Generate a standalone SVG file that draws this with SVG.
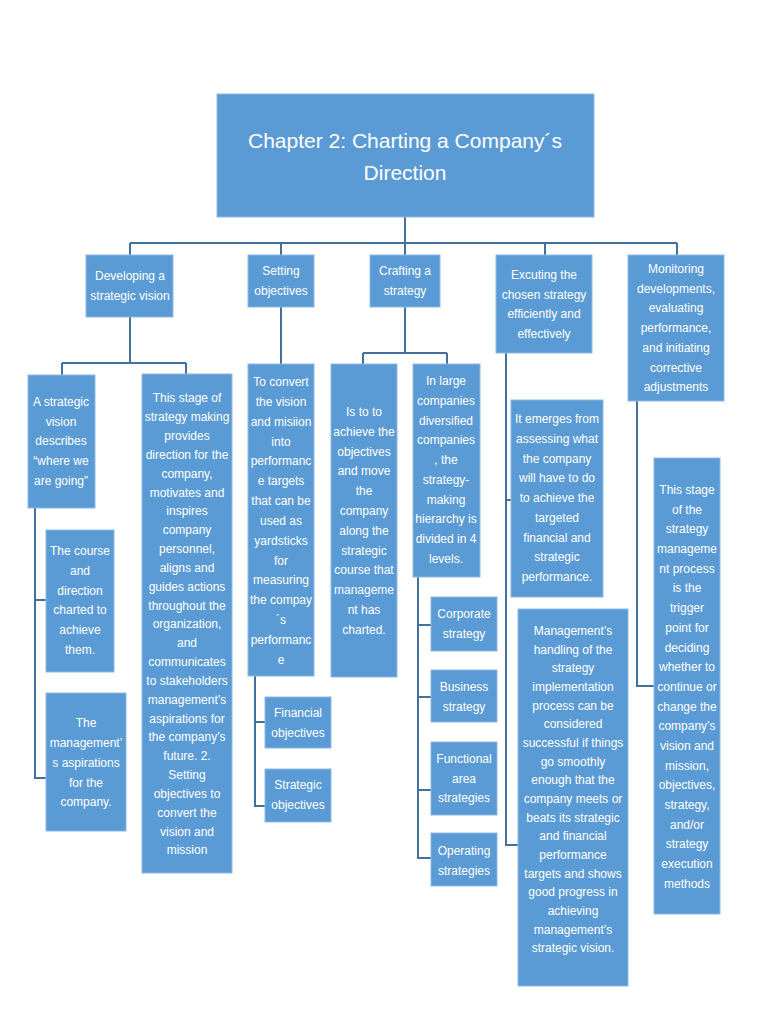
<svg xmlns="http://www.w3.org/2000/svg" width="768" height="1024" viewBox="0 0 768 1024">
<style>
.b{fill:#5B9BD5;stroke:#8DB9E6;stroke-width:1}
.t{font-family:"Liberation Sans",Arial,sans-serif;font-size:12px;fill:#fff;text-anchor:middle}
.c{fill:none;stroke:#41719C;stroke-width:2}
</style>
<rect width="768" height="1024" fill="#fff"/>
<g id="connectors" class="c">
<path d="M405 217V243M130 243H677M130 243V255M281 243V255M405 243V255M545 243V255M677 243V255"/>
<path d="M130 317V363M62 363H186M62 363V375M186 363V375"/>
<path d="M35 508V778H46M35 600H46"/>
<path d="M281 307V364"/>
<path d="M255 676V806H265M255 722H265"/>
<path d="M405 307V353M363 353H447M363 353V364M447 353V364"/>
<path d="M418 577V858H431M418 625H431M418 697H431M418 790H431"/>
<path d="M506 353V845H518M506 500H511"/>
<path d="M637 401V686H654"/>
</g>
<g id="title"><rect class="b" x="217" y="94" width="377" height="123"/>
<text class="t" style="font-size:21px" x="405" y="148">Chapter 2: Charting a Company´s</text>
<text class="t" style="font-size:21px" x="405" y="180">Direction</text></g>
<g id="n1"><rect class="b" x="86" y="255" width="87" height="62"/><text class="t" x="130" y="280">Developing a</text><text class="t" x="130" y="300">strategic vision</text></g>
<g id="n2"><rect class="b" x="248" y="255" width="66" height="52"/><text class="t" x="281" y="275">Setting</text><text class="t" x="281" y="295">objectives</text></g>
<g id="n3"><rect class="b" x="370" y="255" width="70" height="52"/><text class="t" x="405" y="275">Crafting a</text><text class="t" x="405" y="295">strategy</text></g>
<g id="n4"><rect class="b" x="496" y="255" width="96" height="98"/><text class="t" x="544" y="279">Excuting the</text><text class="t" x="544" y="299">chosen strategy</text><text class="t" x="544" y="318">efficiently and</text><text class="t" x="544" y="338">effectively</text></g>
<g id="n5"><rect class="b" x="628" y="255" width="96" height="146"/><text class="t" x="676" y="273">Monitoring</text><text class="t" x="676" y="293">developments,</text><text class="t" x="676" y="312">evaluating</text><text class="t" x="676" y="332">performance,</text><text class="t" x="676" y="352">and initiating</text><text class="t" x="676" y="372">corrective</text><text class="t" x="676" y="391">adjustments</text></g>
<g id="n6"><rect class="b" x="28" y="375" width="67" height="133"/><text class="t" x="61" y="406">A strategic</text><text class="t" x="61" y="426">vision</text><text class="t" x="61" y="445">describes</text><text class="t" x="61" y="465">“where we</text><text class="t" x="61" y="485">are going”</text></g>
<g id="n7"><rect class="b" x="46" y="530" width="68" height="142"/><text class="t" x="80" y="555">The course</text><text class="t" x="80" y="575">and</text><text class="t" x="80" y="595">direction</text><text class="t" x="80" y="614">charted to</text><text class="t" x="80" y="634">achieve</text><text class="t" x="80" y="654">them.</text></g>
<g id="n8"><rect class="b" x="46" y="693" width="80" height="138"/><text class="t" x="86" y="727">The</text><text class="t" x="86" y="747">management’</text><text class="t" x="86" y="767">s aspirations</text><text class="t" x="86" y="787">for the</text><text class="t" x="86" y="806">company.</text></g>
<g id="n9"><rect class="b" x="142" y="374" width="90" height="499"/>
<text class="t" x="187" y="402">This stage of</text><text class="t" x="187" y="421">strategy making</text><text class="t" x="187" y="440">provides</text><text class="t" x="187" y="459">direction for the</text><text class="t" x="187" y="478">company,</text><text class="t" x="187" y="497">motivates and</text><text class="t" x="187" y="515">inspires</text><text class="t" x="187" y="534">company</text><text class="t" x="187" y="553">personnel,</text><text class="t" x="187" y="572">aligns and</text><text class="t" x="187" y="591">guides actions</text><text class="t" x="187" y="610">throughout the</text><text class="t" x="187" y="628">organization,</text><text class="t" x="187" y="647">and</text><text class="t" x="187" y="666">communicates</text><text class="t" x="187" y="685">to stakeholders</text><text class="t" x="187" y="704">management’s</text><text class="t" x="187" y="723">aspirations for</text><text class="t" x="187" y="741">the company’s</text><text class="t" x="187" y="760">future. 2.</text><text class="t" x="187" y="779">Setting</text><text class="t" x="187" y="798">objectives to</text><text class="t" x="187" y="817">convert the</text><text class="t" x="187" y="836">vision and</text><text class="t" x="187" y="854">mission</text></g>
<g id="n10"><rect class="b" x="248" y="364" width="66" height="312"/>
<text class="t" x="281" y="386">To convert</text><text class="t" x="281" y="406">the vision</text><text class="t" x="281" y="426">and misiion</text><text class="t" x="281" y="446">into</text><text class="t" x="281" y="465">performanc</text><text class="t" x="281" y="485">e targets</text><text class="t" x="281" y="505">that can be</text><text class="t" x="281" y="525">used as</text><text class="t" x="281" y="545">yardsticks</text><text class="t" x="281" y="565">for</text><text class="t" x="281" y="584">measuring</text><text class="t" x="281" y="604">the compay</text><text class="t" x="281" y="624">´s</text><text class="t" x="281" y="644">performanc</text><text class="t" x="281" y="664">e</text></g>
<g id="n11"><rect class="b" x="265" y="697" width="66" height="51"/><text class="t" x="298" y="717">Financial</text><text class="t" x="298" y="737">objectives</text></g>
<g id="n12"><rect class="b" x="265" y="769" width="66" height="53"/><text class="t" x="298" y="789">Strategic</text><text class="t" x="298" y="809">objectives</text></g>
<g id="n13"><rect class="b" x="331" y="364" width="66" height="313"/>
<text class="t" x="364" y="416">Is to to</text><text class="t" x="364" y="436">achieve the</text><text class="t" x="364" y="456">objectives</text><text class="t" x="364" y="475">and move</text><text class="t" x="364" y="495">the</text><text class="t" x="364" y="515">company</text><text class="t" x="364" y="535">along the</text><text class="t" x="364" y="555">strategic</text><text class="t" x="364" y="574">course that</text><text class="t" x="364" y="594">manageme</text><text class="t" x="364" y="614">nt has</text><text class="t" x="364" y="634">charted.</text></g>
<g id="n14"><rect class="b" x="413" y="364" width="67" height="213"/>
<text class="t" x="446" y="385">In large</text><text class="t" x="446" y="405">companies</text><text class="t" x="446" y="425">diversified</text><text class="t" x="446" y="444">companies</text><text class="t" x="446" y="464">, the</text><text class="t" x="446" y="484">strategy-</text><text class="t" x="446" y="504">making</text><text class="t" x="446" y="523">hierarchy is</text><text class="t" x="446" y="543">divided in 4</text><text class="t" x="446" y="563">levels.</text></g>
<g id="n15"><rect class="b" x="431" y="597" width="66" height="54"/><text class="t" x="464" y="618">Corporate</text><text class="t" x="464" y="638">strategy</text></g>
<g id="n16"><rect class="b" x="431" y="670" width="66" height="52"/><text class="t" x="464" y="691">Business</text><text class="t" x="464" y="711">strategy</text></g>
<g id="n17"><rect class="b" x="431" y="742" width="66" height="73"/><text class="t" x="464" y="763">Functional</text><text class="t" x="464" y="783">area</text><text class="t" x="464" y="802">strategies</text></g>
<g id="n18"><rect class="b" x="431" y="833" width="66" height="53"/><text class="t" x="464" y="855">Operating</text><text class="t" x="464" y="875">strategies</text></g>
<g id="n19"><rect class="b" x="511" y="400" width="92" height="197"/>
<text class="t" x="557" y="423">It emerges from</text><text class="t" x="557" y="443">assessing what</text><text class="t" x="557" y="463">the company</text><text class="t" x="557" y="482">will have to do</text><text class="t" x="557" y="502">to achieve the</text><text class="t" x="557" y="522">targeted</text><text class="t" x="557" y="542">financial and</text><text class="t" x="557" y="561">strategic</text><text class="t" x="557" y="581">performance.</text></g>
<g id="n20"><rect class="b" x="518" y="609" width="110" height="377"/>
<text class="t" x="573" y="635">Management’s</text><text class="t" x="573" y="654">handling of the</text><text class="t" x="573" y="672">strategy</text><text class="t" x="573" y="691">implementation</text><text class="t" x="573" y="710">process can be</text><text class="t" x="573" y="728">considered</text><text class="t" x="573" y="747">successful if things</text><text class="t" x="573" y="766">go smoothly</text><text class="t" x="573" y="784">enough that the</text><text class="t" x="573" y="803">company meets or</text><text class="t" x="573" y="822">beats its strategic</text><text class="t" x="573" y="840">and financial</text><text class="t" x="573" y="859">performance</text><text class="t" x="573" y="878">targets and shows</text><text class="t" x="573" y="896">good progress in</text><text class="t" x="573" y="915">achieving</text><text class="t" x="573" y="934">management’s</text><text class="t" x="573" y="952">strategic vision.</text></g>
<g id="n21"><rect class="b" x="654" y="458" width="66" height="456"/>
<text class="t" x="687" y="494">This stage</text><text class="t" x="687" y="514">of the</text><text class="t" x="687" y="533">strategy</text><text class="t" x="687" y="553">manageme</text><text class="t" x="687" y="573">nt process</text><text class="t" x="687" y="592">is the</text><text class="t" x="687" y="612">trigger</text><text class="t" x="687" y="632">point for</text><text class="t" x="687" y="652">deciding</text><text class="t" x="687" y="671">whether to</text><text class="t" x="687" y="691">continue or</text><text class="t" x="687" y="711">change the</text><text class="t" x="687" y="730">company’s</text><text class="t" x="687" y="750">vision and</text><text class="t" x="687" y="770">mission,</text><text class="t" x="687" y="789">objectives,</text><text class="t" x="687" y="809">strategy,</text><text class="t" x="687" y="829">and/or</text><text class="t" x="687" y="848">strategy</text><text class="t" x="687" y="868">execution</text><text class="t" x="687" y="888">methods</text></g>
</svg>
